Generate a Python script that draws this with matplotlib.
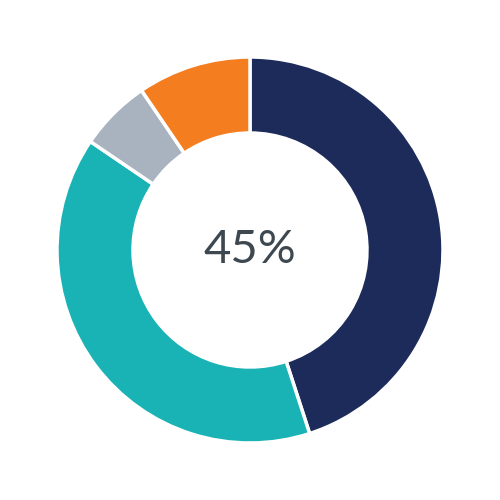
import matplotlib
matplotlib.use("Agg")
import matplotlib.pyplot as plt

labels = ["Navy", "Teal", "Gray", "Orange"]
values = [45, 39.5, 6, 9.5]
colors = ["#1c2b5a", "#1ab3b5", "#a8b3bf", "#f47d20"]
center_text = "45%"

fig = plt.figure(figsize=(5, 5), dpi=100)
ax = fig.add_axes([0, 0, 1, 1])

ax.pie(values, colors=colors, startangle=90, counterclock=False,
       radius=193 / 250,
       wedgeprops=dict(width=76 / 250, edgecolor="white", linewidth=2.5))
ax.text(0, 0, center_text, ha="center", va="center", fontsize=34,
        family="Lato", color="#3d4850")

ax.set_xlim(-1, 1)
ax.set_ylim(-1, 1)
ax.set_aspect("equal")
ax.axis("off")

fig.savefig("out.png", dpi=100, facecolor="white")
